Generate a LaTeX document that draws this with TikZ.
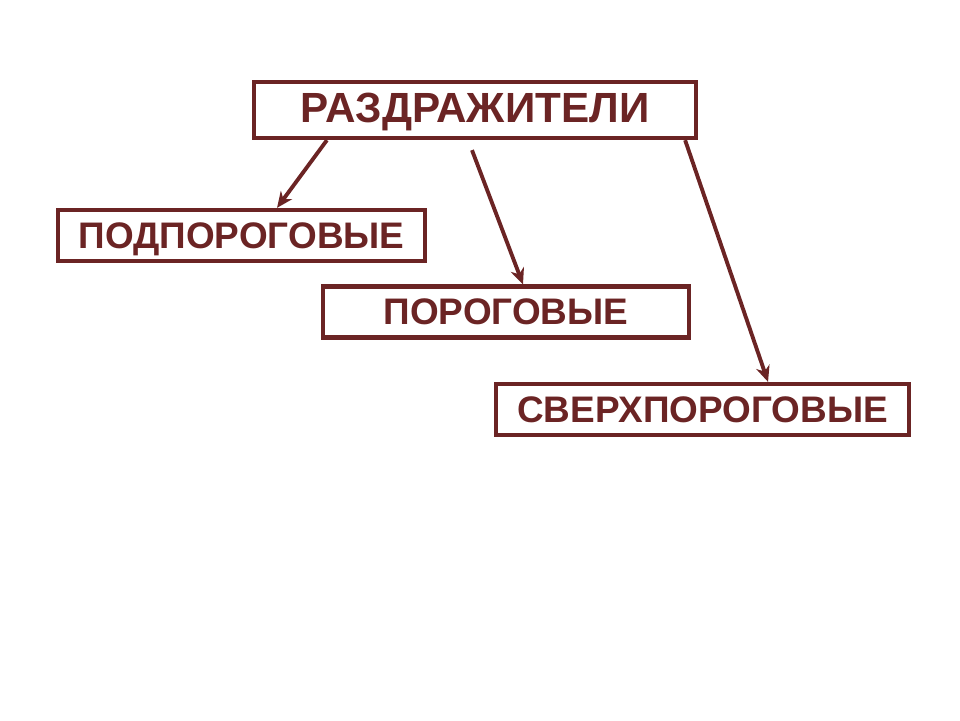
\documentclass[tikz,border=0pt]{standalone}
\usepackage{fontspec}
\setmainfont{Liberation Sans}
\usetikzlibrary{arrows.meta}
\definecolor{maroon}{RGB}{107,36,36}
\begin{document}
\begin{tikzpicture}[x=0.01cm,y=-0.01cm,
		box/.style={draw=maroon,line width=1.2pt,text=maroon,font=\bfseries\fontsize{10.5}{12}\selectfont,
			inner sep=0pt,text height=0.716em,text depth=0pt,minimum height=0.51cm},
		headbox/.style={box,font=\bfseries\fontsize{12}{14}\selectfont,minimum height=0.56cm},
		arr/.style={draw=maroon,line width=1.1pt,-{Stealth[length=1.6mm,width=1.4mm]}}]
		\useasboundingbox (0,0) rectangle (960,720);
		\node[headbox,minimum width=4.42cm] (stim) at (475,110) {РАЗДРАЖИТЕЛИ};
		\node[box,minimum width=3.67cm] (sub) at (241.5,235.5) {ПОДПОРОГОВЫЕ};
		\node[box,minimum width=3.66cm] (thr) at (506,312) {ПОРОГОВЫЕ};
		\node[box,minimum width=4.13cm] (sup) at (702.5,409.5) {СВЕРХПОРОГОВЫЕ};
		\draw[arr] ([xshift=-1.48cm]stim.south) -- ([xshift=0.355cm]sub.north);
		\draw[arr] ([xshift=-0.03cm,yshift=-0.1cm]stim.south) -- ([xshift=0.17cm]thr.north);
		\draw[arr] ([xshift=2.1cm]stim.south) -- ([xshift=0.655cm]sup.north);
		\end{tikzpicture}
\end{document}
